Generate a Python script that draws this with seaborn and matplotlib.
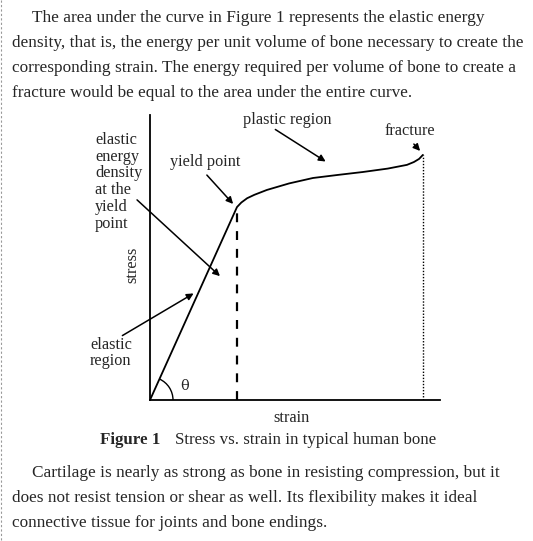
import numpy as np
import matplotlib
matplotlib.use("Agg")
import matplotlib.pyplot as plt
import seaborn as sns
from matplotlib.patches import Arc

sns.set_style("white")
plt.rcParams['font.family'] = ['Liberation Serif', 'DejaVu Serif']

strain = [0, 0.300, 0.315, 0.335, 0.360, 0.403, 0.480, 0.562, 0.650, 0.734, 0.820, 0.886, 0.910, 0.928, 0.941]
stress = [0, 0.677, 0.693, 0.708, 0.720, 0.737, 0.760, 0.779, 0.790, 0.800, 0.812, 0.825, 0.835, 0.846, 0.860]
yield_strain, yield_stress = 0.300, 0.677
fracture_strain, fracture_stress = 0.941, 0.860

top_lines = [
    "The area under the curve in Figure 1 represents the elastic energy",
    "density, that is, the energy per unit volume of bone necessary to create the",
    "corresponding strain. The energy required per volume of bone to create a",
    "fracture would be equal to the area under the entire curve.",
]
bottom_lines = [
    "Cartilage is nearly as strong as bone in resisting compression, but it",
    "does not resist tension or shear as well. Its flexibility makes it ideal",
    "connective tissue for joints and bone endings.",
]

W, H = 533, 541
fig = plt.figure(figsize=(W/100, H/100), dpi=100)
ov = fig.add_axes([0, 0, 1, 1])
ov.set_xlim(0, W); ov.set_ylim(H, 0); ov.axis('off')

fs = 12.4
for i, t in enumerate(top_lines):
    ov.text(32 if i == 0 else 12, 18 + 25*i, t, fontsize=fs, va='center')
for i, t in enumerate(bottom_lines):
    ov.text(32 if i == 0 else 12, 473 + 25*i, t, fontsize=fs, va='center')

L, R, B, T = 150, 440, 400, 115
ax = fig.add_axes([L/W, 1 - B/H, (R-L)/W, (B-T)/H])
ax.set_xlim(0, 1); ax.set_ylim(0, 1)
sns.lineplot(x=strain, y=stress, ax=ax, color='black', lw=1.3, sort=False, estimator=None)
ax.plot([yield_strain]*2, [0, yield_stress], color='black', lw=1.6, ls=(0, (4, 4)))
ax.plot([fracture_strain]*2, [0, fracture_stress], color='black', lw=1, ls=(0, (1, 1.2)))
for s in ['top', 'right']:
    ax.spines[s].set_visible(False)
for s in ['left', 'bottom']:
    ax.spines[s].set_color('black'); ax.spines[s].set_linewidth(1.3)
ax.set_xticks([]); ax.set_yticks([])
ax.patch.set_alpha(0)

ov.add_patch(Arc((150, 400), 46, 46, theta1=-65.7, theta2=0, color='black', lw=1))
ov.text(180, 386, "θ", fontsize=10.5, va='center', family=['DejaVu Serif'])

dfs = 11.7
lines = ["elastic", "energy", "density", "at the", "yield", "point"]
for i, t in enumerate(lines):
    ov.text(95, 140 + 16.7*i, t, fontsize=dfs, va='center')
ov.text(90, 345, "elastic", fontsize=dfs, va='center')
ov.text(90, 361, "region", fontsize=dfs, va='center')
ov.text(132, 265, "stress", fontsize=dfs, va='center', ha='center', rotation=90)
ov.text(170, 162, "yield point", fontsize=dfs, va='center')
ov.text(243, 120, "plastic region", fontsize=dfs, va='center')
ov.text(385, 131, "fracture", fontsize=dfs, va='center')
ov.text(292, 418, "strain", fontsize=dfs, va='center', ha='center')
ov.text(100, 440, "Figure 1", fontsize=12.2, va='center', weight='bold')
ov.text(175, 440, "Stress vs. strain in typical human bone", fontsize=12.2, va='center')

arrows = [((135, 198), (222, 278)), ((120, 337), (196, 292)), ((205, 173), (235, 206)),
          ((273, 128), (328, 163)), ((412, 142), (422, 153))]
for (x0, y0), (x1, y1) in arrows:
    ov.annotate("", xy=(x1, y1), xytext=(x0, y0),
                arrowprops=dict(arrowstyle='-|>', color='black', lw=1.1, mutation_scale=10))

ov.plot([0.5, 0.5], [0, H], color='#999999', lw=0.8, ls=(0, (2, 2)))
fig.savefig("out.png", dpi=100)
